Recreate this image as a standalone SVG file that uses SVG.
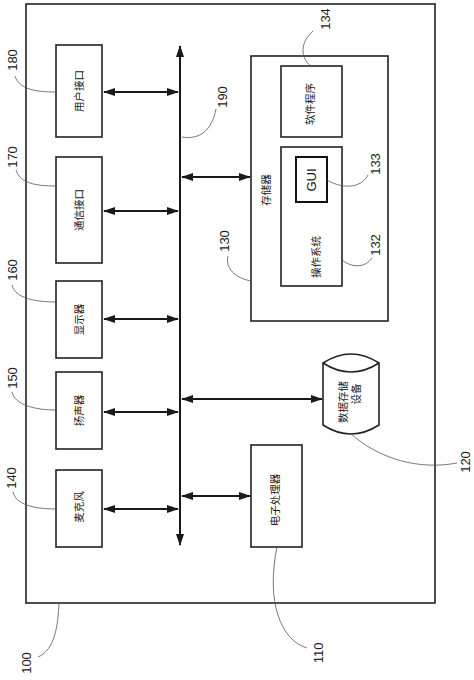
<svg xmlns="http://www.w3.org/2000/svg" width="474" height="680" viewBox="0 0 474 680">
<defs>
<style>
.box{fill:#fff;stroke:#222;stroke-width:1.6}
.arr{fill:none;stroke:#1a1a1a;stroke-width:2;marker-start:url(#ah);marker-end:url(#ah)}
.lead{fill:none;stroke:#555;stroke-width:0.8}
.num{font-family:"Liberation Sans",Arial,sans-serif;font-size:13px;fill:#222;text-anchor:middle}
.cn{font-family:"Noto Sans CJK SC","Noto Sans",sans-serif;font-size:10.5px;fill:#222;text-anchor:middle}
.gui{font-family:"Liberation Sans",Arial,sans-serif;font-size:13px;fill:#111;text-anchor:middle}
</style>
<marker id="ah" viewBox="0 0 12 8" refX="11" refY="4" markerWidth="12" markerHeight="8" markerUnits="userSpaceOnUse" orient="auto-start-reverse">
<path d="M0,0 L12,4 L0,8 z" fill="#1a1a1a"/>
</marker>
</defs>
<rect width="474" height="680" fill="#fff"/>

<g id="n100">
<rect class="box" x="26" y="4" width="409" height="599"/>
<text class="num" transform="translate(26,663) rotate(-90)" dy="0.35em">100</text>
</g>

<g id="n180">
<rect class="box" x="56" y="45" width="46" height="92"/>
<text class="cn" transform="translate(79,91) rotate(-90)" dy="0.35em">用户接口</text>
<text class="num" transform="translate(12.5,60) rotate(-90)" dy="0.35em">180</text>
</g>
<g id="n170">
<rect class="box" x="56" y="157" width="46" height="106"/>
<text class="cn" transform="translate(79,210) rotate(-90)" dy="0.35em">通信接口</text>
<text class="num" transform="translate(12.5,157) rotate(-90)" dy="0.35em">170</text>
</g>
<g id="n160">
<rect class="box" x="56" y="281" width="46" height="77"/>
<text class="cn" transform="translate(79,319.5) rotate(-90)" dy="0.35em">显示器</text>
<text class="num" transform="translate(12,270) rotate(-90)" dy="0.35em">160</text>
</g>
<g id="n150">
<rect class="box" x="56" y="372" width="46" height="77"/>
<text class="cn" transform="translate(79,410.5) rotate(-90)" dy="0.35em">扬声器</text>
<text class="num" transform="translate(12,378) rotate(-90)" dy="0.35em">150</text>
</g>
<g id="n140">
<rect class="box" x="56" y="470" width="46" height="77"/>
<text class="cn" transform="translate(79,507) rotate(-90)" dy="0.35em">麦克风</text>
<text class="num" transform="translate(11,478) rotate(-90)" dy="0.35em">140</text>
</g>

<g id="n190">
<text class="num" transform="translate(222,97) rotate(-90)" dy="0.35em">190</text>
</g>

<g id="n130">
<rect class="box" x="251" y="56" width="137" height="265"/>
<text class="cn" transform="translate(266,190) rotate(-90)" dy="0.35em">存储器</text>
<text class="num" transform="translate(224,241) rotate(-90)" dy="0.35em">130</text>
</g>
<g id="n134">
<rect class="box" x="281" y="66" width="61" height="71"/>
<text class="cn" transform="translate(310,104) rotate(-90)" dy="0.35em">软件程序</text>
<text class="num" transform="translate(325,19) rotate(-90)" dy="0.35em">134</text>
</g>
<g id="n132">
<rect class="box" x="281" y="147" width="61" height="139"/>
<text class="cn" transform="translate(316,257) rotate(-90)" dy="0.35em">操作系统</text>
<text class="num" transform="translate(375,245) rotate(-90)" dy="0.35em">132</text>
</g>
<g id="n133">
<rect x="296" y="157" width="31" height="45" fill="#fff" stroke="#111" stroke-width="2"/>
<text class="gui" transform="translate(311.5,180) rotate(-90)" dy="0.35em">GUI</text>
<text class="num" transform="translate(375,164) rotate(-90)" dy="0.35em">133</text>
</g>

<g id="n120">
<path class="box" d="M323,363 Q351,345 379,363 L379,425 Q351,443 323,425 Z"/>
<path d="M323,363 Q351,381 379,363" fill="none" stroke="#222" stroke-width="1.6"/>
<text class="cn" transform="translate(343,402) rotate(-90)" dy="0.35em">数据存储</text>
<text class="cn" transform="translate(356,394) rotate(-90)" dy="0.35em">设备</text>
<text class="num" transform="translate(465,462) rotate(-90)" dy="0.35em">120</text>
</g>

<g id="n110">
<rect class="box" x="251" y="445" width="51" height="102"/>
<text class="cn" transform="translate(275,500) rotate(-90)" dy="0.35em">电子处理器</text>
<text class="num" transform="translate(318,653) rotate(-90)" dy="0.35em">110</text>
</g>

<g id="connectors">
<line class="arr" x1="180" y1="46" x2="180" y2="545"/>
<line class="arr" x1="104" y1="92" x2="178" y2="92"/>
<line class="arr" x1="104" y1="211" x2="178" y2="211"/>
<line class="arr" x1="104" y1="319" x2="178" y2="319"/>
<line class="arr" x1="104" y1="412" x2="178" y2="412"/>
<line class="arr" x1="104" y1="509" x2="178" y2="509"/>
<line class="arr" x1="182" y1="177" x2="250" y2="177"/>
<line class="arr" x1="182" y1="399" x2="322" y2="399"/>
<line class="arr" x1="182" y1="496" x2="250" y2="496"/>
<path class="lead" d="M15,76 C19,89 35,92 56,92"/>
<path class="lead" d="M16,170 C20,183 35,186 56,186"/>
<path class="lead" d="M12,285 C15,298 35,302 56,302"/>
<path class="lead" d="M12,392 C15,405 35,410 56,410"/>
<path class="lead" d="M13,492 C16,505 35,509 56,509"/>
<path class="lead" d="M38,657 C55,650 58,625 59,603"/>
<path class="lead" d="M307,648 C280,640 266,600 277,547"/>
<path class="lead" d="M350,433 C380,460 420,470 457,463"/>
<path class="lead" d="M228,256 C225,268 235,278 251,281"/>
<path class="lead" d="M342,260 C352,268 365,268 372,258"/>
<path class="lead" d="M327,180 C340,188 360,190 368,175"/>
<path class="lead" d="M313,31 C300,42 300,58 311,66"/>
<path class="lead" d="M182,137 C200,140 212,130 216,109"/>
</g>
</svg>
